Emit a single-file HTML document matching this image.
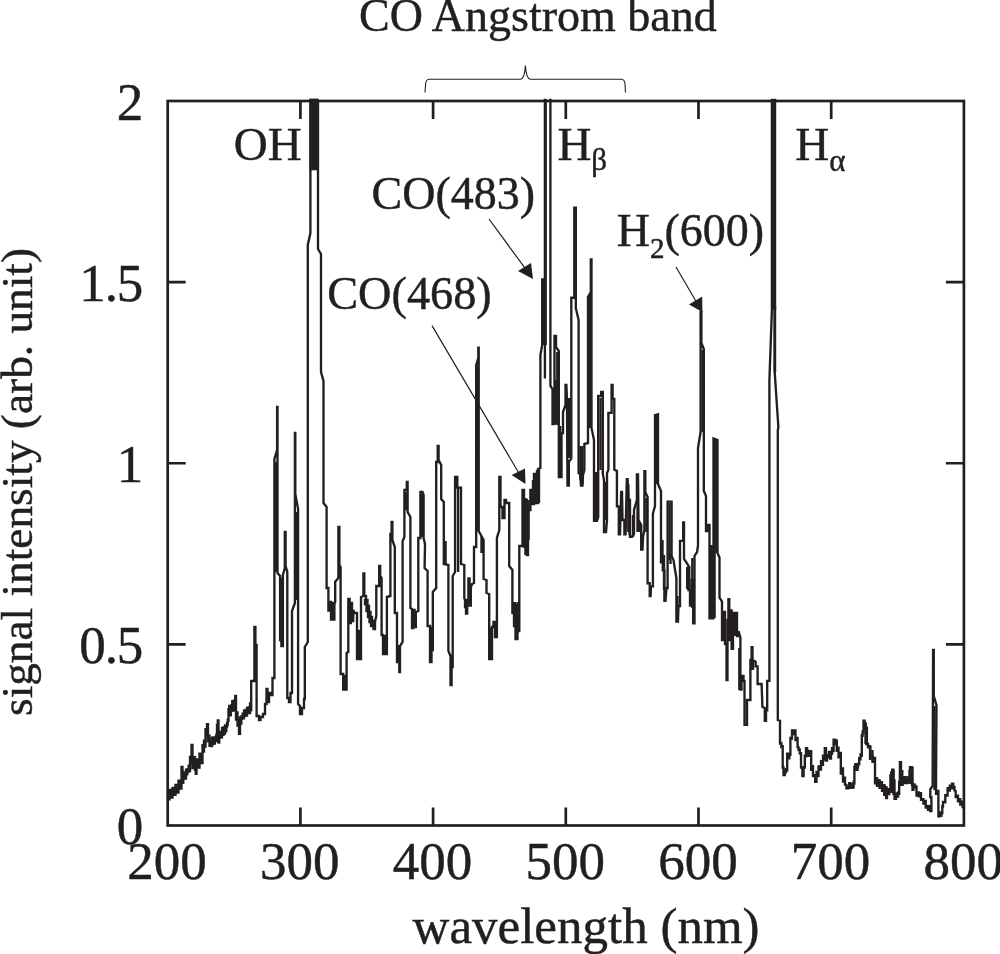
<!DOCTYPE html>
<html lang="en"><head><meta charset="utf-8"><title>Emission spectrum</title>
<style>html,body{margin:0;padding:0;background:#fff}</style></head>
<body>
<svg width="1000" height="954" viewBox="0 0 1000 954" style="display:block;font-family:'Liberation Serif',serif" fill="#231f20" stroke="#231f20" stroke-width="0.45">
<rect width="1000" height="954" fill="#fff" stroke="none"/>
<rect x="167.7" y="101" width="796.2" height="724.5" fill="none" stroke="#231f20" stroke-width="2.7"/>
<path d="M300.4,101 v18 M300.4,825.5 v-18 M433.1,101 v18 M433.1,825.5 v-18 M565.8,101 v18 M565.8,825.5 v-18 M698.5,101 v18 M698.5,825.5 v-18 M831.2,101 v18 M831.2,825.5 v-18 M167.7,644.375 h18 M963.9,644.375 h-18 M167.7,463.25 h18 M963.9,463.25 h-18 M167.7,282.125 h18 M963.9,282.125 h-18" fill="none" stroke="#231f20" stroke-width="2.7"/>
<path d="M168,797 L168,794.41 L168.75,794.41 L168.75,799.29 L169.5,799.29 L169.5,797 L169.5,793 L169.5,789.84 L170.25,789.84 L170.25,795.16 L171,795.16 L171,793 L171,795 L171,792.04 L171.75,792.04 L171.75,797.67 L172.5,797.67 L172.5,795 L172.5,790 L172.5,787.87 L173.25,787.87 L173.25,792.91 L174,792.91 L174,790 L174,792 L174,789.9 L174.75,789.9 L174.75,794.78 L175.5,794.78 L175.5,792 L175.5,787 L175.5,784.85 L176.25,784.85 L176.25,789.19 L177,789.19 L177,787 L177,789 L177,786.23 L177.75,786.23 L177.75,792.47 L178.5,792.47 L178.5,789 L178.5,783 L178.5,780.75 L179.25,780.75 L179.25,785.42 L180,785.42 L180,783 L180,785 L180,781.88 L180.75,781.88 L180.75,788.68 L181.5,788.68 L181.5,785 L181.5,770 L181.5,766.97 L182.5,766.97 L182.5,770 L182.5,780 L182.5,782.72 L183.25,782.72 L183.25,776.27 L184,776.27 L184,780 L184,776 L184,778.11 L184.67,778.11 L184.67,772.48 L185.33,772.48 L185.33,778.53 L186,778.53 L186,776 L186,772 L186,769.72 L186.67,769.72 L186.67,774.23 L187.33,774.23 L187.33,769.43 L188,769.43 L188,772 L188,768 L188,771.45 L188.67,771.45 L188.67,765.66 L189.33,765.66 L189.33,771.04 L190,771.04 L190,768 L190,760 L190,756.86 L190.75,756.86 L190.75,762.68 L191.5,762.68 L191.5,760 L191.5,748 L191.5,745.02 L192.5,745.02 L192.5,748 L192.5,766 L192.5,768.14 L193.25,768.14 L193.25,763.87 L194,763.87 L194,766 L194,756 L194,758.39 L195,758.39 L195,756 L195,771 L195,767.79 L195.75,767.79 L195.75,773.77 L196.5,773.77 L196.5,771 L196.5,762 L196.5,759.42 L197.25,759.42 L197.25,765.05 L198,765.05 L198,762 L198,765 L198,762.18 L198.75,762.18 L198.75,767.55 L199.5,767.55 L199.5,765 L199.5,757 L199.5,753.59 L200.25,753.59 L200.25,760.25 L201,760.25 L201,757 L201,760 L201,757.55 L201.75,757.55 L201.75,763.03 L202.5,763.03 L202.5,760 L202.5,748 L202.5,745.06 L203.25,745.06 L203.25,751.55 L204,751.55 L204,748 L204,744 L204,740.7 L204.75,740.7 L204.75,746.53 L205.5,746.53 L205.5,744 L205.5,733 L205.5,729.26 L206.25,729.26 L206.25,735.24 L207,735.24 L207,733 L207,727 L207,724.24 L208,724.24 L208,727 L208,738 L208,741.35 L208.75,741.35 L208.75,735.71 L209.5,735.71 L209.5,738 L209.5,743 L209.5,745.88 L210.33,745.88 L210.33,740.9 L211.17,740.9 L211.17,746.19 L212,746.19 L212,743 L212,741 L212,737.64 L212.7,737.64 L212.7,744.03 L213.4,744.03 L213.4,737.45 L214.1,737.45 L214.1,743.58 L214.8,743.58 L214.8,737.76 L215.5,737.76 L215.5,741 L215.5,738 L215.5,741.06 L216.25,741.06 L216.25,734.96 L217,734.96 L217,738 L217,724 L217,726.82 L217.75,726.82 L217.75,720.51 L218.5,720.51 L218.5,724 L218.5,739 L218.5,742.67 L219.25,742.67 L219.25,736.15 L220,736.15 L220,739 L220,734 L220,737.19 L220.67,737.19 L220.67,731.86 L221.33,731.86 L221.33,737.25 L222,737.25 L222,734 L222,731 L222,727.84 L222.75,727.84 L222.75,734.76 L223.5,734.76 L223.5,727.54 L224.25,727.54 L224.25,733.53 L225,733.53 L225,731 L225,728 L225,725.3 L225.67,725.3 L225.67,731.19 L226.33,731.19 L226.33,725.93 L227,725.93 L227,728 L227,722 L227,724.83 L227.75,724.83 L227.75,719.68 L228.5,719.68 L228.5,722 L228.5,708 L228.5,710.23 L229.25,710.23 L229.25,705.87 L230,705.87 L230,708 L230,712 L230,715.37 L230.75,715.37 L230.75,709.74 L231.5,709.74 L231.5,712 L231.5,704 L231.5,706.46 L232.25,706.46 L232.25,701.29 L233,701.29 L233,704 L233,707 L233,710.55 L233.75,710.55 L233.75,704.83 L234.5,704.83 L234.5,707 L234.5,699 L234.5,701.81 L235.25,701.81 L235.25,696.01 L236,696.01 L236,699 L236,716 L236,719.57 L236.75,719.57 L236.75,712.54 L237.5,712.54 L237.5,716 L237.5,722 L237.5,725.53 L238.25,725.53 L238.25,719.49 L239,719.49 L239,722 L239,731 L239,733.75 L240,733.75 L240,731 L240,720 L240,717.35 L240.67,717.35 L240.67,723.57 L241.33,723.57 L241.33,716.3 L242,716.3 L242,720 L242,716 L242,718.29 L242.67,718.29 L242.67,713.66 L243.33,713.66 L243.33,718.43 L244,718.43 L244,716 L244,713 L244,710.56 L244.75,710.56 L244.75,715.87 L245.5,715.87 L245.5,709.94 L246.25,709.94 L246.25,715.49 L247,715.49 L247,713 L247,710 L247,707.96 L247.75,707.96 L247.75,712.76 L248.5,712.76 L248.5,707.33 L249.25,707.33 L249.25,713.02 L250,713.02 L250,710 L250,707 L250,703.31 L250.6,703.31 L250.6,710.23 L251.2,710.23 L251.2,707 L251.2,681 L254.4,681 L254.4,627 L255.4,627 L255.4,645 L256.6,645 L256.6,716 L259,716 L259,720 L260.5,720 L260.5,717 L263,717 L263,714 L265,714 L265,704 L266.5,704 L266.5,689 L267.5,689 L267.5,702 L269,702 L269,693 L271,693 L271,695 L272.5,695 L272.5,678 L274.4,678 L274.4,459 L277.1,450 L277.1,407 L277.5,407 L277.5,573 L280.1,576 L280.1,640 L281.4,640 L281.4,646 L282.9,646 L282.9,575 L284.8,568 L284.8,532 L285.6,532 L285.6,566 L287.3,572 L287.3,698 L289,698 L289,702 L290.5,702 L290.5,693 L292,693 L292,611 L294.9,603 L294.9,433 L295.3,433 L295.3,494 L298.1,509 L298.1,704 L300,706 L300,714 L302,714 L302,708 L304,708 L304,699 L304.8,699 L304.8,647 L307.8,642 L307.8,245 L310.4,233 L310.4,100 L318,100" fill="none" stroke="#231f20" stroke-width="2.35" stroke-linejoin="miter" stroke-linecap="butt"/>
<path d="M318,100 L318,249 L321,254 L321,372 L323.5,381 L323.5,503 L326.6,507 L326.6,588 L328.4,588 L328.4,610.5 L329.8,610.5 L329.8,602 L331,602 L331,619.6 L332.2,619.6 L332.2,603 L333.4,603 L333.4,619.6 L334.4,619.6 L334.4,604 L335.2,602 L335.2,581.6 L338.4,578 L338.4,527 L339.4,527 L339.4,565 L340.6,567 L340.6,674 L343.2,674 L343.2,689.6 L344.6,689.6 L344.6,676 L345.6,676 L345.6,689.6 L346.6,689.6 L346.6,653 L348.3,652 L348.3,599 L349.6,599 L349.6,623 L350.8,623 L350.8,603 L352,603 L352,621 L353.2,621 L353.2,610 L354.6,613 L357,613 L357,659 L358.3,659 L358.3,631 L359.6,631 L359.6,659 L361,659 L361,597 L363.4,596 L363.4,573.3 L364.3,573.3 L364.3,596 L366,596 L366,604 L365,604 L365,600 L367.5,600 L367.5,611 L366.5,611 L366.5,606 L369,606 L369,617 L368,617 L368,612 L370.5,612 L370.5,622 L369.5,622 L369.5,617 L372,617 L372,626 L371,626 L371,621 L373.5,621 L373.5,629 L375,629 L375,622 L376.3,616 L376.3,586 L379.2,586 L379.2,566 L380.2,566 L380.2,576 L381.6,578 L381.6,635 L383,635 L383,654 L384.3,654 L384.3,636 L385.6,636 L385.6,654 L386.9,654 L386.9,597 L390.4,596 L390.4,534 L391.6,534 L391.6,522 L392.4,522 L392.4,540 L394.8,547 L394.8,613 L397,613 L397,662 L399.3,662 L399.3,672 L400,672 L400,646 L402.6,642 L402.6,541 L404.4,537 L404.4,490 L406.8,490 L406.8,482 L407.6,482 L407.6,512 L410.4,517 L410.4,608 L412,609 L412,628 L413.3,628 L413.3,610 L414.6,610 L414.6,627 L415.8,627 L415.8,612 L418.3,611 L418.3,538 L420.4,538 L420.4,492 L422.5,492 L423.6,495 L423.6,538 L425,544 L424.6,568 L427.6,571 L427.6,626 L430,626 L430,662 L431.5,662 L431.5,650 L432.8,650 L432.8,592 L436.2,588 L436.2,462 L437.7,462 L437.7,446 L438.6,446 L438.6,460 L441.2,465 L441.2,499 L443.8,502 L443.8,564 L448.4,565 L448.4,651 L450.5,656 L450.5,685 L451.6,685 L451.6,667 L452.7,667 L452.7,576 L455.1,572 L455.1,477 L457.3,477 L457.3,487.6 L461,487.6 L461,564 L464.3,565 L464.3,598 L465,600 L465,607 L466,607 L466,613.5 L467.2,613.5 L467.2,600 L468.4,600 L468.4,578.5 L469.6,578.5 L469.6,605.5 L470.8,605.5 L470.8,588 L472,584 L474,583 L474,547 L476.2,547 L476.2,365 L478.3,358 L478.3,347.6 L478.7,347.6 L478.7,531 L483.6,540 L483.6,579 L486.5,580 L486.5,593 L489.2,594 L489.2,659 L492,659 L492,627 L493.5,627 L493.5,622 L495,622 L495,637 L496.9,637 L496.9,538 L499.3,530 L499.3,477 L500.5,477 L500.5,507 L502.5,507 L502.5,518 L504.5,518 L504.5,500 L506,500 L506,503 L509.2,503 L509.2,566 L512.4,570 L512.4,613 L514,613 L514,626 L515.5,626 L515.5,639 L517.5,639 L517.5,631 L519.3,631 L519.3,546 L522.5,546 L522.5,490 L524,490 L524,500 L526.8,500 L526.8,555 L528,555 L528,510 L530.4,510 L530.4,490 L532,490 L532,504 L534,504 L534,474 L536,474 L536,503 L538,503 L538,469 L540.4,468 L540.4,355 L542.2,345 L542.2,279.4 L543.6,279.4 L543.6,345" fill="none" stroke="#231f20" stroke-width="2.35" stroke-linejoin="miter" stroke-linecap="butt"/>
<path d="M544.9,378.5 L544.9,98.8" fill="none" stroke="#231f20" stroke-width="2.35" stroke-linejoin="miter" stroke-linecap="butt"/>
<path d="M550.4,98.8 L550.4,386 L552.5,389 L552.5,424 L554.5,424 L554.5,336 L556,336 L556,347 L558.8,351 L558.8,477 L561.5,477 L561.5,433 L563,433 L563,412 L565.5,405 L565.5,385 L566.4,385 L567,400 L567.5,485.6 L568.8,485.6 L568.8,462 L571.3,458.4 L571.3,297.7 L574.3,297.7 L574.3,207.7 L575.8,207.7 L575.8,308 L578.6,320 L578.6,473 L580,473 L581,485.6 L582.5,485.6 L583,475 L584.4,470 L584.4,444 L588,443 L588,297 L590.8,292 L590.8,259.4 L591.5,259.4 L591.5,428 L594,440 L594,520.8 L597,520.8 L598.2,517 L598.2,396 L601.2,396 L601.2,392 L602.8,392 L602.8,474 L604,480 L604,532 L606,532 L607,520 L607,473 L608.4,470 L608.4,412.8 L611.6,412.8 L611.6,384.8 L612.6,384.8 L612.6,399 L614.3,399 L614.3,469.6 L616.9,471 L616.9,506.4 L618.8,506.4 L618.8,534.4 L620,534.4 L621.2,492 L622,492 L622.5,520 L624.4,520 L624.4,534.4 L625.6,534.4 L626.8,479.2 L627.6,479.2 L628.5,500 L630,500 L630,536.8 L632,536.8 L634,534 L634,510 L636.9,500 L636.9,474.4 L638,474.4 L638.5,520 L641.2,525 L641.2,549.6 L642.5,549.6 L643,537 L644.4,530 L644.4,471.2 L645.3,471.2 L645.3,492 L647.6,497 L647.6,583.2 L649.7,583.2 L649.7,596 L650.6,596 L651,586.4 L652.9,586.4 L652.9,513.6 L655,506 L655,415.2 L658,414.4 L658,484 L661,491 L661,562.4 L662.8,562.4 L662.8,570.4 L664.4,570.4 L664.4,600.8 L665.5,600.8 L666.5,588 L667.6,588 L667.6,501.6 L671.6,501.6 L671.6,556 L673.5,560 L676.4,578.4 L676.4,621.6 L678,621.6 L678.5,606 L680,606 L680,540.8 L683.2,540.8 L683.2,522.4 L684,522.4 L684,559 L688.4,565.6 L688.4,590 L690,590 L690,605.6 L691.5,605.6 L691.5,580 L693.2,580 L693.2,623.2 L694.5,623.2 L694.5,556 L697,552 L698,545.6 L698,448 L700.6,432 L700.6,312 L701.4,312 L701.4,343 L703.8,349 L703.8,491 L706,496 L706,531 L708.4,531 L708.4,524.8 L709.5,524.8 L709.5,618.4 L713.5,618.4 L713.5,438.4 L717.5,440 L717.5,553 L719.5,557.6 L719.5,597.6 L722,601.6 L722,640 L723.5,640 L723.5,612 L725,612 L725,644 L726.5,644 L726.5,680 L727.5,680 L727.5,620 L728.4,620 L728.4,599.2 L729.3,599.2 L729.3,640 L730.5,640 L730.5,610.4 L731.6,610.4 L731.6,648.8 L733,648.8 L733,612.8 L737,612.8 L737,636 L738.5,636 L738.5,631 L740.4,637.6 L740.4,689.6 L741.5,689.6 L741.5,676 L743.5,676 L743.5,681 L744.5,681 L744.5,724.8 L747,724.8 L747,700 L750.4,700 L750.4,660 L751.6,660 L751.6,647.2 L752.5,647.2 L752.5,660 L755.6,661.6 L755.6,666.4 L757.6,666.4 L757.6,684 L761.6,684 L762.4,707 L764.8,708 L764.8,720.8 L766,720.8 L766,710.4 L767.2,710.4 L767.2,680.8 L769.4,680.8 L769.4,380 L771.9,310 L771.9,99" fill="none" stroke="#231f20" stroke-width="2.35" stroke-linejoin="miter" stroke-linecap="butt"/>
<path d="M774.7,310 L774.7,372 L778.4,427.7 L777.8,430 L777.8,720 L780,720.8 L780,744.8 L780,742.83 L781.35,742.83 L781.35,747.09 L782.7,747.09 L782.7,745 L782.7,768.8 L782.7,767.19 L783.5,767.19 L783.5,770 L783.5,773.6 L783.5,775.06 L784.75,775.06 L784.75,771.12 L786,771.12 L786,773.6 L786,768 L786,770.34 L787.2,770.34 L787.2,768 L787.2,756 L787.2,753.55 L788.27,753.55 L788.27,758.36 L789.33,758.36 L789.33,754.13 L790.4,754.13 L790.4,756 L790.4,736.8 L790.4,738.68 L792,738.68 L792,736.8 L792,732 L792,730.48 L793.17,730.48 L793.17,734.16 L794.33,734.16 L794.33,730.53 L795.5,730.53 L795.5,732 L795.5,738 L795.5,739.98 L796.55,739.98 L796.55,737.85 L797.6,737.85 L797.6,740 L797.6,747.09 L798.5,747.09 L798.5,751 L798.5,749.44 L799.75,749.44 L799.75,753.21 L801,753.21 L801,752 L801,768.8 L801,767.5 L802.4,767.5 L802.4,769 L802.4,774.4 L802.4,775.98 L803.6,775.98 L803.6,774.4 L803.6,768.8 L803.6,767.28 L804.8,767.28 L804.8,768.8 L804.8,754.4 L804.8,756.24 L806,756.24 L806,754.4 L806,749.6 L806,748.17 L807,748.17 L807,752.05 L808,752.05 L808,749.6 L808,757 L808,754.86 L809.5,754.86 L809.5,757 L809.5,752.8 L809.5,754.38 L810.35,754.38 L810.35,751.1 L811.2,751.1 L811.2,752.8 L811.2,768 L811.2,769.82 L812.1,769.82 L812.1,766.16 L813,766.16 L813,768 L813,773 L813,776.1 L814.1,776.1 L814.1,775.23 L815.2,775.23 L815.2,779.2 L815.2,781.79 L816.5,781.79 L816.5,779.2 L816.5,774 L816.5,772.04 L817.5,772.04 L817.5,775.98 L818.5,775.98 L818.5,774 L818.5,768 L818.5,766.5 L819.75,766.5 L819.75,769.52 L821,769.52 L821,768 L821,763 L821,761.19 L822,761.19 L822,764.72 L823,764.72 L823,763 L823,758 L823,755.61 L823.9,755.61 L823.9,759.59 L824.8,759.59 L824.8,758 L824.8,749.6 L824.8,748.17 L826,748.17 L826,749.6 L826,758 L826,760.54 L827,760.54 L827,755.97 L828,755.97 L828,758 L828,754 L828,755.58 L829,755.58 L829,751.95 L830,751.95 L830,754 L830,758 L830,758.68 L831,758.68 L831,753.72 L832,753.72 L832,755 L832,747 L832,751.07 L833.6,751.07 L833.6,750 L833.6,742.2 L833.6,739.76 L834.67,739.76 L834.67,744.44 L835.73,744.44 L835.73,740.49 L836.8,740.49 L836.8,742.2 L836.8,749 L836.8,750.94 L837.65,750.94 L837.65,747.7 L838.5,747.7 L838.5,749.4 L838.5,755 L838.5,757.33 L839.65,757.33 L839.65,752.96 L840.8,752.96 L840.8,755 L840.8,771.8 L840.8,773.58 L841.9,773.58 L841.9,768.35 L843,768.35 L843,769.6 L843,780 L843,781.67 L844,781.67 L844,777.63 L845,777.63 L845,780 L845,784.53 L846.4,784.53 L846.4,783.9 L846.4,789.5 L846.4,787.08 L848,787.08 L848,789.5 L848,785.5 L848,787.87 L849.12,787.87 L849.12,783.12 L850.24,783.12 L850.24,787.79 L851.36,787.79 L851.36,783.83 L852.48,783.83 L852.48,787.52 L853.6,787.52 L853.6,785.5 L853.6,782.3 L853.6,781.72 L854.4,781.72 L854.4,784.8 L854.4,765.6 L854.4,767.03 L855.6,767.03 L855.6,764.17 L856.8,764.17 L856.8,767.34 L858,767.34 L858,763.89 L859.2,763.89 L859.2,765.6 L859.2,757 L859.2,759.23 L860.5,759.23 L860.5,754.45 L861.8,754.45 L861.8,757 L861.8,734 L861.8,735.94 L862.65,735.94 L862.65,731.48 L863.5,731.48 L863.5,734 L863.5,719.5 L863.5,722.09 L864.6,722.09 L864.6,719.5 L864.6,726.5 L864.6,724.08 L865.75,724.08 L865.75,728.71 L866.9,728.71 L866.9,727 L866.9,745.6 L866.9,743.94 L868.05,743.94 L868.05,747.27 L869.2,747.27 L869.2,745.6 L869.2,747.14 L870.35,747.14 L870.35,756.77 L871.5,756.77 L871.5,758.3 L871.5,756.53 L872.67,756.53 L872.67,761.93 L873.83,761.93 L873.83,757.81 L875,757.81 L875,760.6 L875,781.4 L875,783.38 L876,783.38 L876,779.22 L877,779.22 L877,781.4 L877,784.22 L878.2,784.22 L878.2,781.28 L879.4,781.28 L879.4,785.89 L880.6,785.89 L880.6,782.13 L881.8,782.13 L881.8,787.88 L883,787.88 L883,786 L883,785.87 L884.15,785.87 L884.15,794.5 L885.3,794.5 L885.3,794.7 L885.3,793.39 L886.15,793.39 L886.15,797.95 L887,797.95 L887,795.9 L887,790.5 L887,789.12 L888.13,789.12 L888.13,794.11 L889.27,794.11 L889.27,790.02 L890.4,790.02 L890.4,793 L890.4,774.2 L890.4,776.08 L891.3,776.08 L891.3,772.32 L892.2,772.32 L892.2,774.2 L892.2,768.4 L892.2,770.94 L893.4,770.94 L893.4,768.4 L893.4,780.53 L894.5,780.53 L894.5,797.2 L894.5,798.8 L896,798.8 L896,797.2 L896,795 L896,793.45 L897.07,793.45 L897.07,796.58 L898.13,796.58 L898.13,792.51 L899.2,792.51 L899.2,795 L899.2,781.77 L899.9,781.77 L899.9,763.8 L899.9,762.22 L901,762.22 L901,763.8 L901,777.14 L902.6,777.14 L902.6,785.7 L902.6,781 L902.6,778.42 L903.75,778.42 L903.75,783.19 L904.9,783.19 L904.9,779.18 L906.05,779.18 L906.05,783.06 L907.2,783.06 L907.2,779.44 L908.35,779.44 L908.35,782.42 L909.5,782.42 L909.5,781 L909.5,770.93 L910,770.93 L910,766 L910,768.18 L911,768.18 L911,766 L911,767.47 L912.5,767.47 L912.5,773 L912.5,788 L912.5,789.94 L913.43,789.94 L913.43,784.33 L914.37,784.33 L914.37,787.53 L915.3,787.53 L915.3,784.5 L915.3,786.71 L916.5,786.71 L916.5,793.7 L916.5,795.5 L917.62,795.5 L917.62,792.45 L918.75,792.45 L918.75,796.2 L919.88,796.2 L919.88,793.06 L921,793.06 L921,794.9 L921,799.8 L922.2,799.8 L922.2,800.5 L922.2,799.19 L923.37,799.19 L923.37,803.6 L924.53,803.6 L924.53,800.94 L925.7,800.94 L925.7,802.9 L925.7,807.69 L926.8,807.69 L926.8,807.5 L926.8,805.83 L927.95,805.83 L927.95,809.9 L929.1,809.9 L929.1,806.15 L930.25,806.15 L930.25,811.04 L931.4,811.04 L931.4,808.7 L931.4,797 L930.3,797 L930.3,789.1 L932.6,786 L933.1,650 L933.8,650 L933.8,696 L936.5,705.3 L936,790.6 L936,793.85 L937.2,793.85 L937.2,790.85 L938.4,790.85 L938.4,793.6 L938.4,814.4 L938.4,816.44 L939.38,816.44 L939.38,812.37 L940.35,812.37 L940.35,815.82 L941.32,815.82 L941.32,812.47 L942.3,812.47 L942.3,814.4 L942.3,805 L942.3,806.62 L943,806.62 L943,805 L943,801.9 L944.15,801.9 L944.15,802.26 L945.3,802.26 L945.3,798.2 L945.3,795.06 L946.43,795.06 L946.43,795.57 L947.57,795.57 L947.57,788.26 L948.7,788.26 L948.7,789 L948.7,790.53 L949.8,790.53 L949.8,785.61 L950.9,785.61 L950.9,788.36 L952,788.36 L952,785.8 L952,783.73 L953.25,783.73 L953.25,788.14 L954.5,788.14 L954.5,785.8 L954.5,791.6 L954.5,791.22 L955.65,791.22 L955.65,797.12 L956.8,797.12 L956.8,795.65 L957.95,795.65 L957.95,801.38 L959.1,801.38 L959.1,800.8 L959.1,799.05 L960.25,799.05 L960.25,804.53 L961.4,804.53 L961.4,801.6 L962.55,801.6 L962.55,807.14 L963.7,807.14 L963.7,805.4" fill="none" stroke="#231f20" stroke-width="2.35" stroke-linejoin="miter" stroke-linecap="butt"/>
<path d="M275.8,462 V572 M296.5,512 V600 M398.2,645 V662 M431.2,627 V651 M490.7,628 V658 M495.8,623 V636 M514,602 V613 M515.5,602 V626 M517,604 V631 M518.2,602 V631 M405.8,492 V510 M422,494 V537 M458.1,487.6 V572 M456.3,478 V487 M445.6,541 V564 M477.4,366 V531 M481.5,536 V553 M482.7,538 V553 M524,498 V548 M525.4,498 V555 M528.6,500 V540 M531.2,490 V504 M533,480 V504 M535,474 V504 M537,470 V503 M539,469 V503 M557.3,352 V425 M553.8,392 V424 M555.6,380 V424 M589.8,296 V428 M560.2,426 V477 M567.8,398 V458 M569.6,398 V458 M580.5,446 V480 M582.4,446 V484 M596,472 V520 M600.5,398 V470 M605.6,482 V520 M628.3,484 V532 M637.5,478 V532 M639.7,522 V532 M646.4,498 V532 M656.5,416 V484 M669.6,503 V556 M662.2,547 V562 M670.5,554 V564 M677.5,596 V606 M689.3,566 V589 M662.5,540 V560 M664,555 V590 M669.5,540 V560 M677.2,596 V606 M687.2,567 V589 M692.3,558 V608 M711,545 V618 M712.3,545 V618 M714.6,440 V618 M715.7,440 V553 M716.6,440 V553 M734.2,614 V636 M735.6,614 V636 M739.3,648 V690 M751.3,661 V670 M753,661 V670 M702.6,350 V432 M934.5,706 V790 M545.7,99 V345 M629.5,500 V535 M633,515 V537 M281.5,578 V642 M891.5,772 V793 M893.5,770 V795 M900.8,764 V786 M902.3,770 V786 M905,776 V784 M907.5,776 V784 M910.6,766 V784 M912,770 V786 M865.5,722 V744 M866.3,726 V745 M855.5,763 V771 M857.5,763 V771 M870,745 V760 M872.5,750 V762 M877,777 V787 M879.5,779 V789 M882,781 V792 M884.5,784 V796 M886.5,786 V796" fill="none" stroke="#231f20" stroke-width="2.35"/>
<rect x="309.5" y="98.8" width="9.1" height="71.5" stroke="none"/>
<rect x="771" y="98.8" width="5.2" height="211" stroke="none"/>
<path d="M774.9,305 V372" stroke="#231f20" stroke-width="2.6" fill="none"/>
<path d="M425,92.5 L425.6,84 Q426,79.3 429,79.2 H520.5 Q524.5,79 525.4,65.6 Q526.3,79 530.3,79.2 H621.5 Q624.6,79.3 625,84 L625.5,92.5" fill="none" stroke="#231f20" stroke-width="1.1"/>
<path d="M489,219 L527,270.8 M432,325.6 L520,475 M676,267 L697,303" fill="none" stroke="#231f20" stroke-width="1.2"/>
<path d="M533,279 L518,271 L531,263 Z M525.5,484 L511.6,475 L525,468.5 Z M702.4,312 L689,304.4 L702.2,296.4 Z" stroke="none"/>
<text x="359" y="31.2" font-size="46" text-anchor="start" >CO Angstrom band</text>
<text x="412.6" y="943" font-size="51" text-anchor="start" >wavelength (nm)</text>
<text transform="translate(32,716) rotate(-90)" font-size="45.3">signal intensity (arb. unit)</text>
<text x="167.1" y="879.4" font-size="53" text-anchor="middle" >200</text>
<text x="299.8" y="879.4" font-size="53" text-anchor="middle" >300</text>
<text x="432.5" y="879.4" font-size="53" text-anchor="middle" >400</text>
<text x="565.2" y="879.4" font-size="53" text-anchor="middle" >500</text>
<text x="697.9" y="879.4" font-size="53" text-anchor="middle" >600</text>
<text x="830.6" y="879.4" font-size="53" text-anchor="middle" >700</text>
<text x="963.3" y="879.4" font-size="53" text-anchor="middle" >800</text>
<text x="142.0" y="844.1" font-size="53" text-anchor="end" letter-spacing="-1.2">0</text>
<text x="142.0" y="662.975" font-size="53" text-anchor="end" letter-spacing="-1.2">0.5</text>
<text x="142.0" y="481.85" font-size="53" text-anchor="end" letter-spacing="-1.2">1</text>
<text x="142.0" y="300.725" font-size="53" text-anchor="end" letter-spacing="-1.2">1.5</text>
<text x="142.0" y="119.6" font-size="53" text-anchor="end" letter-spacing="-1.2">2</text>
<text x="233.7" y="159.8" font-size="47" text-anchor="start" >OH</text>
<text x="557.4" y="159.8" font-size="47" text-anchor="start" >H<tspan font-size="31" dy="10.5">β</tspan></text>
<text x="795.2" y="159.8" font-size="47" text-anchor="start" >H<tspan font-size="31" dy="11">α</tspan></text>
<text x="371.5" y="209" font-size="46" text-anchor="start" >CO(483)</text>
<text x="327.2" y="309" font-size="46.3" text-anchor="start" >CO(468)</text>
<text x="616.8" y="246" font-size="46" text-anchor="start" >H<tspan font-size="29" dy="11.5">2</tspan><tspan dy="-11.5">(600)</tspan></text>
</svg>
</body></html>
